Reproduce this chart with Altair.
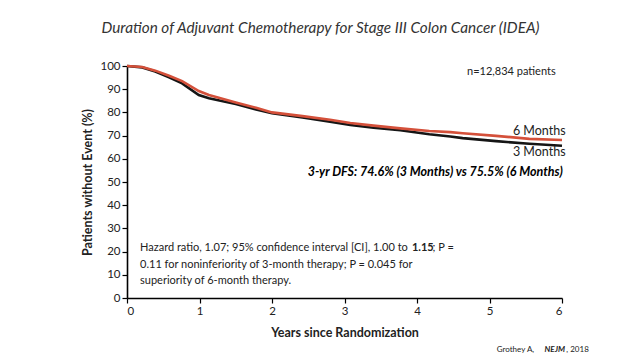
import altair as alt
import pandas as pd

years = [0, 0.21, 0.39, 0.58, 0.76, 0.99, 1.13, 1.5, 1.78, 2.0, 2.42, 2.8, 3.08, 3.4, 3.77, 4.17, 4.46, 4.63, 5.09, 5.55, 6.0]
surv_3m = [100, 99.4, 97.6, 95.1, 92.5, 87.5, 86.1, 83.6, 81.3, 79.6, 77.8, 76.0, 74.6, 73.4, 72.3, 70.6, 69.6, 68.9, 67.6, 66.5, 65.6]
surv_6m = [100, 99.6, 98.0, 95.8, 93.5, 89.2, 87.5, 84.3, 82.0, 80.0, 78.4, 76.8, 75.4, 74.3, 73.1, 72.0, 71.5, 71.0, 69.9, 68.6, 68.1]
series = ["3 Months", "6 Months"]
colors = ["#151515", "#d4503a"]
x_ticks = [0, 1, 2, 3, 4, 5, 6]
y_ticks = [0, 10, 20, 30, 40, 50, 60, 70, 80, 90, 100]

FONT = "Lato"

df = pd.DataFrame(
    {"year": years * 2,
     "surv": surv_3m + surv_6m,
     "arm": [series[0]] * len(years) + [series[1]] * len(years),
     "order": [0] * len(years) + [1] * len(years)}
)

x = alt.X("year:Q", scale=alt.Scale(domain=[0, 6], nice=False),
          axis=alt.Axis(values=x_ticks, title="Years since Randomization", grid=False,
                        tickSize=5, labelPadding=2, titlePadding=10, format="d", labelOverlap=False))
y = alt.Y("surv:Q", scale=alt.Scale(domain=[0, 100], nice=False),
          axis=alt.Axis(values=y_ticks, title="Patients without Event (%)", grid=False,
                        tickSize=5, labelPadding=2, titlePadding=5, labelOverlap=False))

lines = alt.Chart(df).mark_line(strokeWidth=2.6, interpolate="linear").encode(
    x=x, y=y,
    color=alt.Color("arm:N", scale=alt.Scale(domain=series, range=colors), legend=None),
    order="order:Q",
    detail="arm:N",
)

def txt(xs, ys, ts, color="#222", **kw):
    d = pd.DataFrame({"year": xs, "surv": ys, "t": ts})
    return alt.Chart(d).mark_text(font=FONT, color=color, **kw).encode(
        x=x, y=y, text="t:N")

n_txt = txt([4.69], [97.4], ["n=12,834 patients"], align="left", baseline="middle", fontSize=11)
arm_txt = txt([6.05, 6.05], [72.0, 62.9], ["6 Months", "3 Months"], align="right", baseline="middle", fontSize=12.5)
dfs_txt = txt([6.01], [54.3], ["3-yr DFS: 74.6% (3 Months) vs 75.5% (6 Months)"],
              align="right", baseline="middle", fontSize=12.5, fontWeight="bold", fontStyle="italic", color="#000")
hr_txt = txt([0.18, 0.18, 0.18], [21.6, 14.2, 7.3],
             ["Hazard ratio, 1.07; 95% confidence interval [CI], 1.00 to",
              "0.11 for noninferiority of 3-month therapy; P = 0.045 for",
              "superiority of 6-month therapy."],
             align="left", baseline="middle", fontSize=11)
hr_bold = txt([3.93], [21.6], ["1.15"], align="left", baseline="middle", fontSize=11, fontWeight="bold")
hr_end = txt([4.215], [21.6], ["; P ="], align="left", baseline="middle", fontSize=11)
cite1 = txt([5.10], [-22.4], ["Grothey A,"], align="left", baseline="middle", fontSize=8)
cite2 = txt([5.76], [-22.4], ["NEJM"], align="left", baseline="middle", fontSize=8, fontWeight="bold", fontStyle="italic")
cite3 = txt([6.06], [-22.4], [", 2018"], align="left", baseline="middle", fontSize=8)

chart = alt.layer(lines, n_txt, arm_txt, dfs_txt, hr_txt, hr_bold, hr_end, cite1, cite2, cite3).properties(
    width=435, height=232,
    title=alt.TitleParams("Duration of Adjuvant Chemotherapy for Stage III Colon Cancer (IDEA)",
                          font=FONT, fontSize=15.3, fontStyle="italic", fontWeight="normal",
                          color="#333", anchor="middle", dx=-24, offset=24),
    autosize=alt.AutoSizeParams(type="none"),
    padding={"left": 119, "top": 58, "right": 68, "bottom": 60},
).configure_view(stroke=None).configure_axis(
    domainColor="#000", domainWidth=1.6, tickColor="#000", tickWidth=1.2,
    labelFont=FONT, labelFontSize=11.5, labelColor="#222",
    titleFont=FONT, titleFontSize=12.5, titleFontWeight="bold", titleColor="#222",
)

chart.save("out.html", embed_options={"renderer": "svg", "actions": False})
